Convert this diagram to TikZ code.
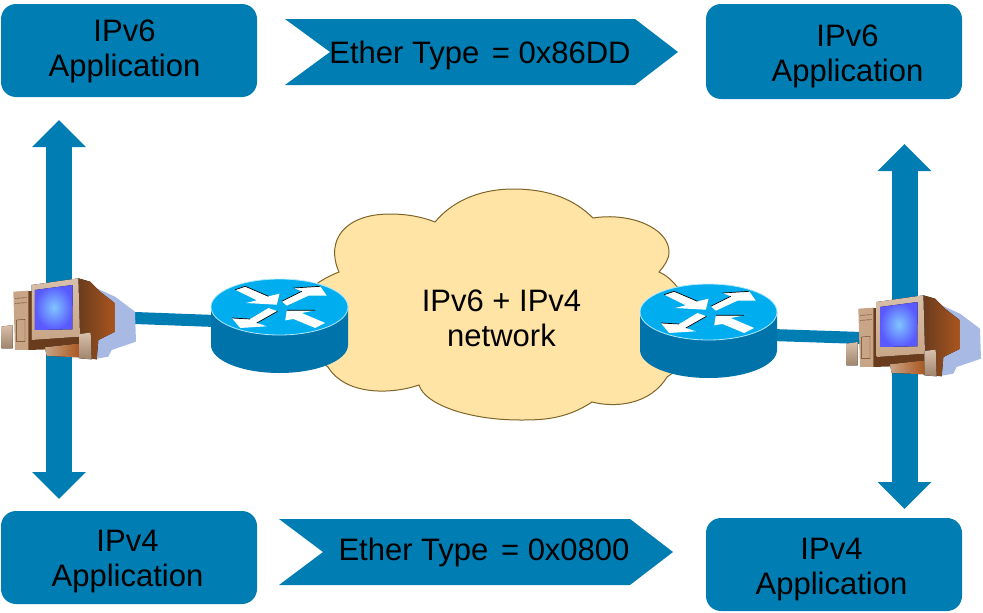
\documentclass[tikz,border=0pt]{standalone}
\usepackage{fontspec}
\setmainfont{Liberation Sans}
\usetikzlibrary{arrows.meta}

\definecolor{ciscoblue}{RGB}{0,125,178}
\definecolor{routertop}{RGB}{0,174,239}
\definecolor{routerside}{RGB}{0,116,170}
\definecolor{cloudfill}{RGB}{255,228,165}
\definecolor{cloudline}{RGB}{125,100,40}
\definecolor{pctan}{RGB}{200,165,135}
\definecolor{pcdark}{RGB}{105,60,30}
\definecolor{pccopper}{RGB}{170,85,30}
\definecolor{pcshadow}{RGB}{168,186,228}

\tikzset{
    appbox/.style = {fill = ciscoblue, rounded corners = 15pt, minimum width = 256pt, minimum height = 93pt, inner sep = 0pt},
    apptext/.style = {align = center, inner sep = 0pt, font = \fontsize{31}{35}\selectfont},
    ethertext/.style = {inner sep = 0pt, font = \fontsize{31}{35}\selectfont},
    updown/.style = {ciscoblue, line width = 26pt, {Triangle[length=27pt,width=52pt]}-{Triangle[length=27pt,width=52pt]}},
    linkline/.style = {ciscoblue, line width = 12pt},
    router/.pic = {
        \fill [routerside] (-68.5,0) -- (-68.5,38) arc [start angle = 180, end angle = 0, x radius = 68.5, y radius = 28] -- (68.5,0) -- cycle;
        \fill [routertop, draw = white!70!routertop, line width = .8pt] (0,0) ellipse [x radius = 68.5, y radius = 28];
        % Four arrows on the top of the router
        \fill [white] (-44.3,-17.3) -- (-34.3,-20.7) -- (-11,-10.7) -- (0,-13.3) -- (-2.7,-2.3) -- (-33.3,-4) -- (-22.7,-6.7) -- cycle;
        \fill [white] (7.3,-1.3) -- (2.3,-5.7) -- (22.3,-15.7) -- (14,-19) -- (40.7,-20.7) -- (47.3,-11.3) -- (29,-11.3) -- cycle;
        \fill [white] (-11,1) -- (-2,4.3) -- (-22.7,16) -- (-12.7,19.3) -- (-39.3,21) -- (-47.7,11) -- (-29.3,12) -- cycle;
        \fill [white] (45.7,16) -- (35.7,21) -- (14,12) -- (5.7,13.3) -- (7.3,3.3) -- (35.7,3.3) -- (22.3,6) -- cycle;
        \draw [black, line width = .7pt] (-44.3,-17.3) -- (-34.3,-20.7) -- (-11,-10.7) (14,-19) -- (40.7,-20.7) (2.3,-5.7) -- (22.3,-15.7)
            (7.3,3.3) -- (35.7,3.3) (-47.7,11) -- (-29.3,12) (-22.7,16) -- (-2,4.3);
    },
    pcicon/.pic = {
        \begin{scope}[x = .3333pt, y = .3333pt]
            \fill [pcshadow] (290,85) -- (345,110) -- (405,155) -- (408,245) -- (335,270) -- (325,290) -- (280,298) -- cycle;
            \fill [left color = pcdark, right color = pccopper] (235,55) -- (270,65) -- (300,95) -- (345,130) -- (345,215) -- (295,240) -- (290,298) -- (235,290) -- cycle;
            \fill [pcdark] (85,92) -- (100,92) -- (100,270) -- (85,270) -- cycle;
            \fill [pcdark] (85,230) -- (240,225) -- (240,265) -- (85,270) -- cycle;
            \fill [left color = pctan, right color = pccopper] (135,262) -- (240,250) -- (240,292) -- (140,288) -- cycle;
            \fill [pctan] (40,95) -- (85,92) -- (85,270) -- (45,270) -- cycle;
            \draw [pcdark, line width = .4pt] (45,115) -- (80,113) (45,130) -- (80,128) (50,180) -- (75,178) -- (75,245) -- (50,245) -- cycle;
            \fill [top color = pctan!70!white, bottom color = pctan] (95,75) -- (235,55) -- (240,230) -- (95,240) -- cycle;
            \fill [inner color = blue!45!cyan!50!white, outer color = blue!65!white] (105,90) -- (218,75) -- (217,208) -- (105,210) -- cycle;
            \fill [top color = pctan!70!white, bottom color = pctan!80!black] (5,200) -- (38,195) -- (38,265) -- (5,265) -- cycle;
            \fill [top color = pctan!70!white, bottom color = pctan!80!black] (238,222) -- (272,218) -- (275,298) -- (238,295) -- cycle;
        \end{scope}
    },
}

\begin{document}
\begin{tikzpicture}[x = 1pt, y = -1pt]
    \useasboundingbox (0,0) rectangle (983,613);

    % Boxes of the four applications
    \node [appbox] (boxa) at (129,50.5) {};
    \node [appbox, minimum height = 95pt] (boxb) at (834,51.5) {};
    \node [appbox] (boxc) at (129,557.5) {};
    \node [appbox] (boxd) at (834,564.5) {};
    \node [apptext] (texta) at (124.5,51) {IPv6\\Application};
    \node [apptext] (textb) at (847.5,56.5) {IPv6\\Application};
    \node [apptext] (textc) at (127.5,562) {IPv4\\Application};
    \node [apptext] (textd) at (831.5,569.5) {IPv4\\Application};

    % Ether type banners
    \fill [ciscoblue] (285,19) -- (635,19) -- (678,52) -- (635,85) -- (285,85) -- (330,52) -- cycle;
    \fill [ciscoblue] (279,519) -- (630,519) -- (673,552) -- (630,585) -- (279,585) -- (323,552) -- cycle;
    \node [ethertext] (ethera) at (480,55) {Ether Type\hspace{4pt} = 0x86DD};
    \node [ethertext] (etherb) at (484,552) {Ether Type\hspace{4pt} = 0x0800};

    % Ends of the connectors
    \coordinate (uptopa) at (59,120);
    \coordinate (upbota) at (59,499);
    \coordinate (uptopb) at (904.5,144);
    \coordinate (upbotb) at (904.5,509);
    \coordinate (pcalink) at (135,318);
    \coordinate (routeralink) at (215,321);
    \coordinate (routerblink) at (772,335);
    \coordinate (pcblink) at (862,338);

    % Cloud
    \filldraw [fill = cloudfill, draw = cloudline, line width = 1pt] (435,222)
        .. controls (455,198) and (485,189) .. (513,189)
        .. controls (550,189) and (575,200) .. (593,218)
        .. controls (630,212) and (669,228) .. (669,252)
        .. controls (669,260) and (664,266) .. (659,272)
        .. controls (690,285) and (710,350) .. (667,377)
        .. controls (650,405) and (615,408) .. (592,402)
        .. controls (565,420) and (540,420) .. (520,420)
        .. controls (470,420) and (425,405) .. (419,385)
        .. controls (390,395) and (345,395) .. (328,367)
        .. controls (290,340) and (280,295) .. (339,272)
        .. controls (325,240) and (345,214) .. (390,214)
        .. controls (410,214) and (425,218) .. (435,222) -- cycle;
    \node [apptext] (cloudtext) at (501.5,318) {IPv6 + IPv4\\network};

    % Connectors
    \draw [updown] (uptopa) -- (upbota);
    \draw [updown] (uptopb) -- (upbotb);
    \draw [linkline] (pcalink) -- (routeralink);
    \draw [linkline] (routerblink) -- (pcblink);

    % Routers and hosts
    \pic at (279.5,307) {router};
    \pic at (708.5,312) {router};
    \pic [yscale = -1] at (0,260) {pcicon};
    \pic [yscale = -1] at (845,277) {pcicon};
\end{tikzpicture}
\end{document}
